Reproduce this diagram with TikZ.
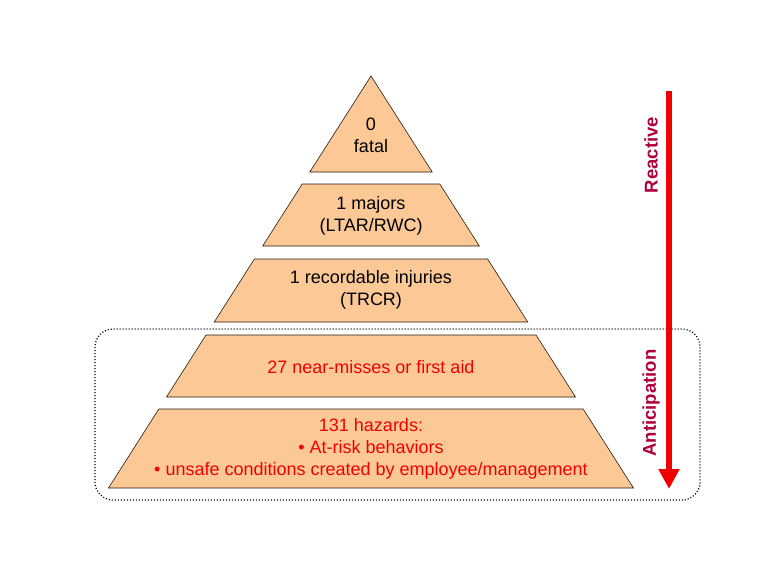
\documentclass[tikz,border=0pt]{standalone}
\usepackage{fontspec}
\usetikzlibrary{arrows.meta}
\setmainfont{Liberation Sans}
\begin{document}
\begin{tikzpicture}[x=1pt,y=-1pt,
  band/.style={fill=peach,draw=black!80!brown,line width=0.6pt},
  lbl/.style={align=center,font=\fontsize{18}{22}\selectfont,inner sep=0pt},
  side/.style={rotate=90,font=\fontsize{18.5}{21}\selectfont\bfseries,text=darkred,inner sep=0pt}]
\definecolor{peach}{HTML}{FCC996}
\definecolor{darkred}{HTML}{B0003A}
\definecolor{arrred}{HTML}{F00000}
\useasboundingbox (0,0) rectangle (768,576);
\pgfmathsetmacro{\k}{0.6371}
\foreach \a/\b in {184/246,259/322,335/397,409/488}{
  \pgfmathsetmacro{\wa}{\k*(\a-76)}
  \pgfmathsetmacro{\wb}{\k*(\b-76)}
  \draw[band] (371-\wa,\a) -- (371+\wa,\a) -- (371+\wb,\b) -- (371-\wb,\b) -- cycle;
}
\draw[band] (371,76) -- (432.2,172) -- (309.8,172) -- cycle;
\node[lbl] (t1) at (371,135) {0\\fatal};
\node[lbl] (t2) at (371,216) {1 majors\\(LTAR/RWC)};
\node[lbl] (t3) at (371,290) {1 recordable injuries\\(TRCR)};
\node[lbl,text=arrred] (t4) at (371,367) {27 near-misses or first aid};
\node[lbl,text=arrred] (t5) at (371,449) {131 hazards:\\• At-risk behaviors\\• unsafe conditions created by employee/management};
\draw[line width=1.3pt,dash pattern=on 1pt off 2pt,rounded corners=18pt] (95,329) rectangle (700,500);
\coordinate (as) at (669,91);
\coordinate (ae) at (669,489);
\draw[arrred,line width=6pt,-{Triangle[length=20pt,width=20pt]}] (as) -- (ae);
\node[side] (r) at (651,155) {Reactive};
\node[side] (an) at (651,403) {Anticipation};
\end{tikzpicture}
\end{document}
